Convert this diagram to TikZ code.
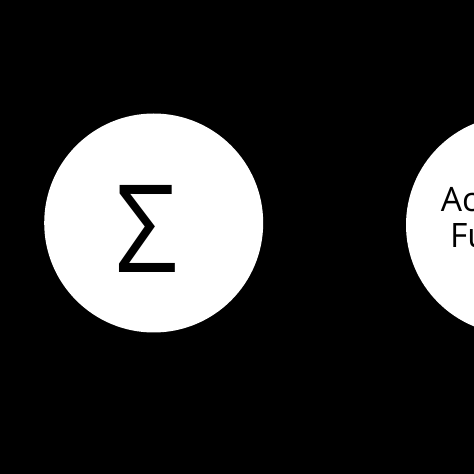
\documentclass[tikz,border=0pt]{standalone}
\usepackage{fontspec}
\setmainfont{Open Sans}
\begin{document}
\begin{tikzpicture}[x=1pt,y=1pt,
  neuron/.style={circle,fill=white,draw=none,minimum size=219pt,inner sep=0pt},
  lbl/.style={inner sep=0pt,text=black,font=\fontsize{33.6}{36}\selectfont}]
\useasboundingbox (0,0) rectangle (474,474);
\fill[black] (0,0) rectangle (474,474);
\clip (0,0) rectangle (474,474);
\node[neuron] (sum) at (153.7,251) {};
\node[neuron] (act) at (515.5,249) {};
\node[inner sep=0pt,xscale=0.9,font=\fontsize{122}{122}\selectfont] (sigma) at (146.5,245) {Σ};
\node[lbl,anchor=base] (l1) at (518,262) {Activation};
\node[lbl,anchor=base] (l2) at (518,226) {Function};
\end{tikzpicture}
\end{document}
